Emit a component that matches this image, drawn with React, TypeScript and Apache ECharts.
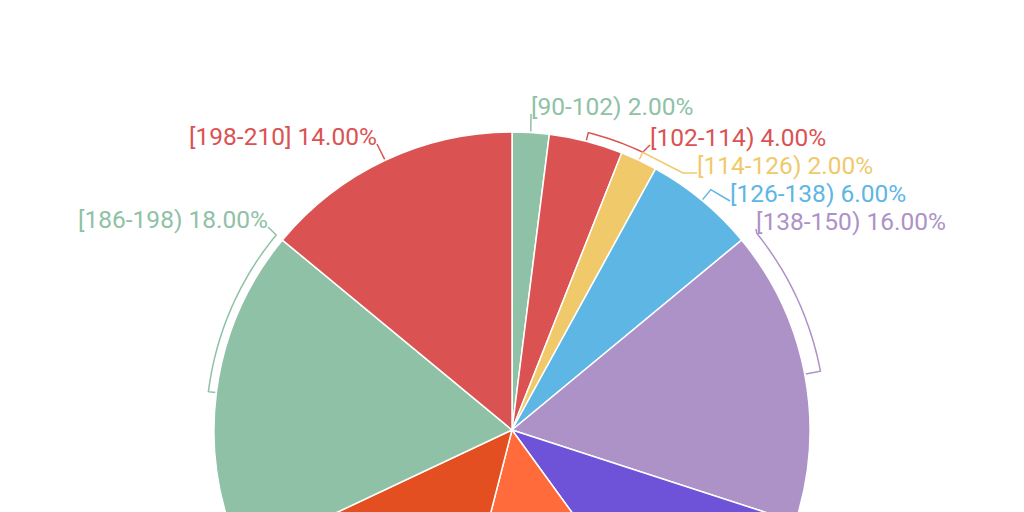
import { useEffect, useRef } from "react";
import * as echarts from "echarts";

const categories = [
    "[90-102)",
    "[102-114)",
    "[114-126)",
    "[126-138)",
    "[138-150)",
    "[150-162)",
    "[162-174)",
    "[174-186)",
    "[186-198)",
    "[198-210]",
];
const counts = [1, 2, 1, 3, 8, 5, 7, 7, 9, 7];
const palette = ["#8fc1a6", "#db5253", "#f0c96b", "#5eb6e5", "#ad92c8", "#6e53d9", "#ff6b3b", "#e44f22"];

const CX = 512;
const CY = 430;
const R = 298;

// label anchors: x, y (middle), align; null = label falls below the visible area
const labelSpots: ([number, number, string] | null)[] = [
    [531, 106, "left"],
    [650, 137, "left"],
    [697, 165, "left"],
    [730, 193, "left"],
    [756, 221, "left"],
    null,
    null,
    null,
    [268, 219, "right"],
    [377, 136, "right"],
];

const total = counts.reduce((a, b) => a + b, 0);
const starts: number[] = [];
const ends: number[] = [];
counts.reduce((acc, v, i) => {
    starts[i] = (acc / total) * 360;
    ends[i] = ((acc + v) / total) * 360;
    return acc + v;
}, 0);
const mids = starts.map((s, i) => (s + ends[i]) / 2);

function pt(a: number, r: number): number[] {
    const t = (a * Math.PI) / 180;
    return [CX + r * Math.sin(t), CY - r * Math.cos(t)];
}

function arc(a0: number, a1: number, r: number): number[][] {
    const n = Math.max(2, Math.ceil(Math.abs(a1 - a0)));
    const out: number[][] = [];
    for (let k = 0; k <= n; k++) out.push(pt(a0 + ((a1 - a0) * k) / n, r));
    return out;
}

function lineEnd(i: number): number[] {
    const s = labelSpots[i]!;
    return [s[0], s[1] + 8];
}

// leader routes, some run along the rim as brackets
const routes: Record<number, () => number[][]> = {
    0: () => [pt(mids[0], R + 1), lineEnd(0)],
    1: () => [pt(mids[1], R + 1), ...arc(mids[1], mids[2], 307), lineEnd(1)],
    2: () => [pt(mids[2], R + 1), pt(mids[2], 307), [lineEnd(2)[0] - 14, lineEnd(2)[1]], lineEnd(2)],
    3: () => [pt(mids[3], R + 1), pt(mids[3], 312), lineEnd(3)],
    4: () => [pt(mids[4], R + 1), ...arc(mids[4], starts[4] + 0.8, 314), lineEnd(4)],
    8: () => [pt(mids[8], R + 1), ...arc(mids[8], ends[8], 306), lineEnd(8)],
    9: () => [pt(mids[9], R + 1), lineEnd(9)],
};

function App() {
    const ref = useRef<HTMLDivElement>(null);

    useEffect(() => {
        if (!ref.current) return;
        const chart = echarts.init(ref.current, null, { renderer: "svg" });

        chart.setOption({
            animation: false,
            backgroundColor: "#ffffff",
            series: [
                {
                    type: "pie",
                    center: [CX, CY],
                    radius: R,
                    startAngle: 90,
                    clockwise: true,
                    itemStyle: { borderColor: "#ffffff", borderWidth: 1.5 },
                    label: {
                        show: true,
                        position: "outside",
                        fontFamily: "Roboto",
                        fontSize: 24.5,
                        width: 300,
                        formatter: (p: any) => `${p.name} ${((p.value / total) * 100).toFixed(2)}%`,
                    },
                    labelLine: { show: true, length: 12, length2: 12, lineStyle: { width: 1.5 } },
                    labelLayout: (p: any) => {
                        const s = labelSpots[p.dataIndex];
                        if (!s) return {};
                        return {
                            x: s[0],
                            y: s[1],
                            align: s[2],
                            verticalAlign: "middle",
                            labelLinePoints: routes[p.dataIndex](),
                        };
                    },
                    data: categories.map((name, i) => {
                        const c = palette[i % palette.length];
                        const shown = labelSpots[i] != null;
                        return {
                            name,
                            value: counts[i],
                            itemStyle: { color: c },
                            label: { show: shown, color: c },
                            labelLine: { show: shown, lineStyle: { color: c } },
                        };
                    }),
                },
            ],
        });

        return () => {
            chart.dispose();
        };
    }, []);

    return (
        <div
            ref={ref}
            style={{ position: "fixed", left: 0, top: 0, width: "1024px", height: "512px" }}
        />
    );
}

export default App;
